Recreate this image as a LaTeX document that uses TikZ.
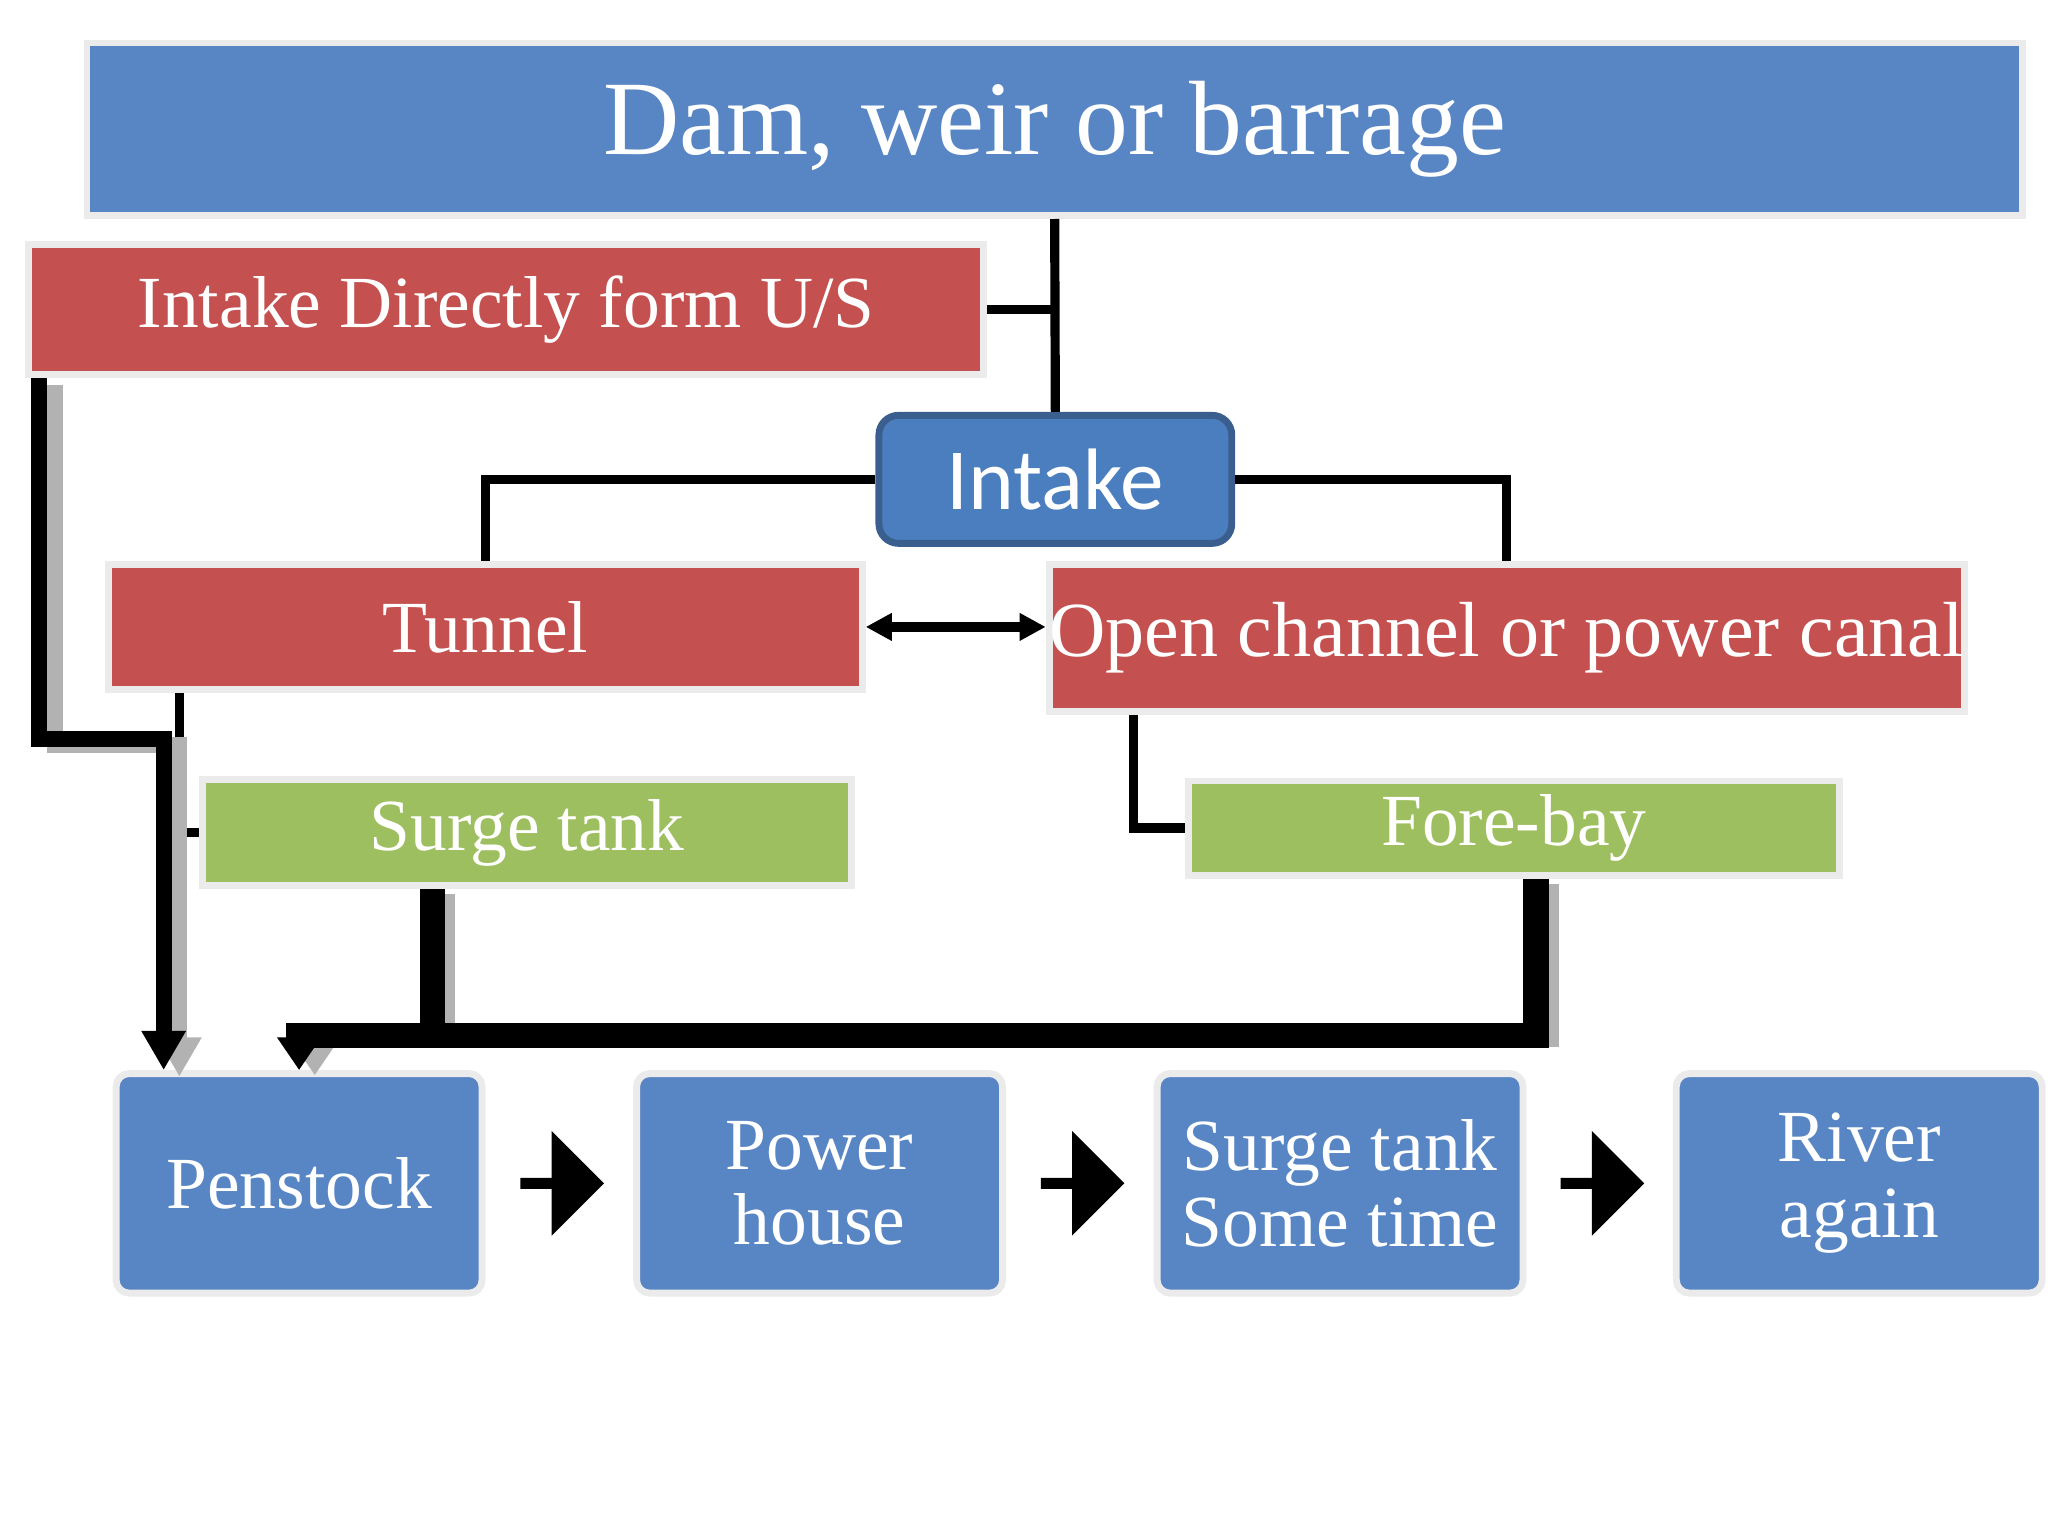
\documentclass[tikz,border=0pt]{standalone}
\usepackage{fontspec}
\setmainfont{Liberation Serif}
\newfontfamily\calib{Carlito}
\usetikzlibrary{positioning,calc,shapes.arrows,arrows.meta}
\definecolor{damblue}{HTML}{5886C4}
\definecolor{intkblue}{HTML}{4A7EBF}
\definecolor{intkline}{HTML}{3A5F8E}
\definecolor{boxred}{HTML}{C4514F}
\definecolor{boxgreen}{HTML}{9EBF5F}
\tikzset{
  box/.style={draw=black!8, line width=1.5pt, text=white, inner sep=0pt,
    font=\fontsize{16}{18}\selectfont, align=center},
  link/.style={draw=black, line width=2pt},
  flow/.style={draw=black, line width=3.5pt,
    preaction={draw=gray!60, line width=3.5pt, transform canvas={xshift=0.12cm, yshift=-0.05cm}}},
  bigflow/.style={draw=black, line width=5.5pt,
    preaction={draw=gray!60, line width=3pt, transform canvas={xshift=0.12cm, yshift=-0.04cm}}},
  blockarrow/.style={single arrow, fill=black, minimum width=0.8cm, minimum height=0.64cm,
    single arrow head extend=0.06cm, inner sep=0pt}
}
\begin{document}
\begin{tikzpicture}[x=0.01cm,y=-0.01cm]
  \useasboundingbox (0,0) rectangle (1568,1176);
  % top rows
  \node[box, fill=damblue, minimum width=14.81cm, minimum height=1.32cm,
    font=\fontsize{23}{26}\selectfont] (dam) at (807.5,99) {Dam, weir or barrage};
  \node[box, fill=boxred, minimum width=7.31cm, minimum height=1.0cm] (direct) at (387.5,237) {Intake Directly form U/S};
  \node[box, fill=intkblue, draw=intkline, line width=1.5pt, rounded corners=0.15cm,
    minimum width=2.70cm, minimum height=0.98cm, font=\calib\fontsize{19}{22}\selectfont] (intake) at (808,367) {Intake};
  \node[box, fill=boxred, minimum width=5.77cm, minimum height=0.96cm] (tunnel) at (371.5,480) {Tunnel};
  \node[box, fill=boxred, minimum width=6.67cm, minimum height=1.13cm,
    font=\fontsize{17}{19}\selectfont] (canal) at (1153.5,488.5) {Open channel or power canal};
  \node[box, fill=boxgreen, minimum width=4.97cm, minimum height=0.81cm] (surge) at (403.5,637.5) {Surge tank};
  \node[box, fill=boxgreen, minimum width=4.98cm, minimum height=0.72cm] (forebay) at (1159,634) {Fore-bay};
  % bottom row
  \foreach \nm/\xx/\lbl in {penstock/229/Penstock, power/627.5/Power\\house,
      sometime/1026/Surge tank\\Some time, river/1423.5/River\\again}
    \node[box, fill=damblue, rounded corners=0.1cm, minimum width=2.80cm,
      minimum height=1.68cm, font=\fontsize{16}{16.5}\selectfont] (\nm) at (\xx,906) {\lbl};
  \node[blockarrow] at ($(penstock.east)!0.5!(power.west)$) {};
  \node[blockarrow] at ($(power.east)!0.5!(sometime.west)$) {};
  \node[blockarrow] at ($(sometime.east)!0.5!(river.west)$) {};
  % connectors
  \draw[link] (dam.south) -- (intake.north);
  \draw[link] (direct.east) -- (direct.east -| intake.north);
  \draw[link] (intake.west) -| (tunnel.north);
  \draw[link] (intake.east) -| (canal.north);
  \draw[link, {Triangle[length=0.2cm,width=0.2cm]}-{Triangle[length=0.2cm,width=0.2cm]}]
    (tunnel.east) -- (tunnel.east -| canal.west);
  \draw[link] ([xshift=0.57cm]tunnel.south west) |- (surge.west);
  \draw[link] ([xshift=0.67cm]canal.south west) |- (forebay.west);
  \draw[flow, -{Triangle[length=0.3cm,width=0.32cm]}]
    ([xshift=0.11cm]direct.south west) -- ++(0,276) -| ([xshift=0.39cm]penstock.north west);
  \draw[bigflow] ([xshift=-0.725cm]surge.south) -- ++(0,112);
  \draw[bigflow, -{Triangle[length=0.25cm,width=0.32cm]}]
    ([xshift=0.17cm]forebay.south) -- ++(0,120) -| (penstock.north);
\end{tikzpicture}
\end{document}
